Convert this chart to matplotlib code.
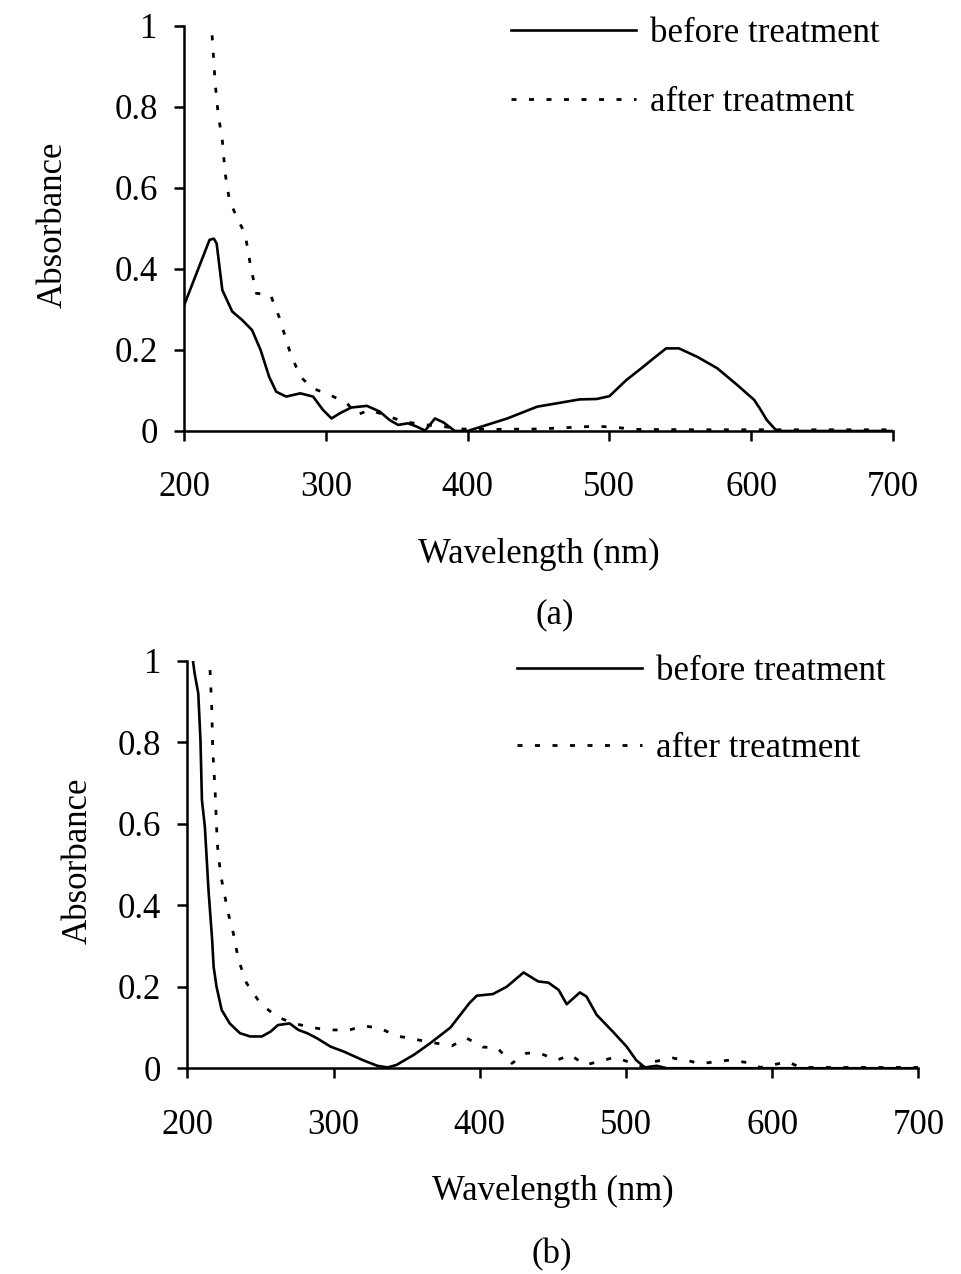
import matplotlib
matplotlib.use("Agg")
import matplotlib.pyplot as plt

plt.rcParams["font.family"] = ["Liberation Serif", "DejaVu Serif"]

# painel (a)
a_antes_wl = [200, 210, 218, 221, 223, 227, 234, 241, 248, 254, 260, 265, 272, 282, 291, 298,
              304, 310, 318, 329, 338, 345, 351, 358, 364, 370, 377, 383, 391, 400, 428, 449,
              479, 491, 500, 512, 524, 531, 540, 549, 562, 576, 590, 602, 606, 611, 618, 650, 700]
a_antes_abs = [0.31, 0.40, 0.472, 0.475, 0.463, 0.348, 0.295, 0.274, 0.249, 0.200, 0.134, 0.097,
               0.085, 0.093, 0.085, 0.052, 0.031, 0.044, 0.058, 0.062, 0.048, 0.027, 0.015, 0.019,
               0.011, 0.001, 0.031, 0.021, 0.0, 0.0, 0.031, 0.060, 0.078, 0.079, 0.086, 0.126,
               0.159, 0.179, 0.204, 0.204, 0.183, 0.155, 0.114, 0.077, 0.056, 0.027, 0.0, 0.0, 0.0]

a_depois_wl = [219, 222, 224, 227, 229, 232, 238, 243, 247, 251, 256, 261, 267, 275, 282, 291,
               303, 315, 322, 331, 341, 355, 371, 383, 395, 420, 450, 480, 490, 500, 520, 560,
               600, 650, 700]
a_depois_abs = [1.02, 0.858, 0.784, 0.718, 0.636, 0.570, 0.521, 0.488, 0.406, 0.340, 0.338, 0.336,
                0.282, 0.192, 0.134, 0.105, 0.089, 0.068, 0.040, 0.052, 0.040, 0.023, 0.015, 0.011,
                0.005, 0.004, 0.005, 0.010, 0.012, 0.010, 0.004, 0.003, 0.003, 0.003, 0.003]

# painel (b)
b_antes_wl = [202, 205, 207.5, 209, 210, 212, 214.5, 217, 218, 220, 223.5, 229, 236, 243, 251, 257,
              262, 270, 276, 282, 288.5, 298, 307, 320, 330, 337, 343, 355, 366, 380, 393, 398,
              409, 418.5, 430, 440, 447, 454, 459.5, 468.5, 473, 480, 491, 500.5, 507, 513, 521,
              528, 600, 700]
b_antes_abs = [1.05, 0.969, 0.92, 0.805, 0.658, 0.593, 0.437, 0.315, 0.249, 0.200, 0.143, 0.110,
               0.086, 0.078, 0.078, 0.090, 0.106, 0.110, 0.094, 0.086, 0.074, 0.053, 0.041, 0.020,
               0.006, 0.002, 0.008, 0.033, 0.061, 0.100, 0.160, 0.178, 0.182, 0.200, 0.235, 0.213,
               0.210, 0.192, 0.157, 0.186, 0.176, 0.131, 0.090, 0.053, 0.020, 0.002, 0.006, 0.0,
               0.0, 0.0]

b_depois_wl = [215, 216.7, 217.4, 219, 220, 221, 223.5, 228, 231.5, 235, 240.5, 250, 261, 272.5,
               288.5, 300, 311, 320.5, 332, 343, 352, 364, 371, 381, 391, 402, 412, 422, 432, 441,
               453, 462, 472, 481, 492.5, 503, 513, 519, 532, 542, 551, 561, 571, 583, 592, 600,
               611, 619, 650, 700]
b_depois_abs = [1.02, 0.887, 0.781, 0.683, 0.593, 0.527, 0.462, 0.380, 0.331, 0.266, 0.209, 0.159,
                0.127, 0.110, 0.098, 0.094, 0.094, 0.104, 0.098, 0.079, 0.074, 0.065, 0.061, 0.055,
                0.074, 0.052, 0.050, 0.012, 0.037, 0.037, 0.020, 0.033, 0.008, 0.016, 0.027, 0.014,
                0.002, 0.016, 0.025, 0.019, 0.011, 0.016, 0.020, 0.014, 0.002, 0.008, 0.016, 0.002,
                0.002, 0.002]

x_ticks = [200, 300, 400, 500, 600, 700]
y_ticks = [0, 0.2, 0.4, 0.6, 0.8, 1]
y_labels = ["0", "0.2", "0.4", "0.6", "0.8", "1"]
legenda = ["before treatment", "after treatment"]

fs = 25
pontilhado = (0, (1.8, 4.5))

fig = plt.figure(figsize=(9.62, 12.74), dpi=100)


def painel(rect, wl1, ab1, wl2, ab2, ylab_x, leg_pos, leg_esp):
    ax = fig.add_axes(rect)
    l1, = ax.plot(wl1, ab1, color="black", lw=1.9)
    l2, = ax.plot(wl2, ab2, color="black", lw=2.0, linestyle=pontilhado)
    ax.set_xlim(200, 700)
    ax.set_ylim(0, 1)
    ax.set_xticks(x_ticks)
    ax.set_yticks(y_ticks)
    ax.set_yticklabels(y_labels)
    for s in ["top", "right"]:
        ax.spines[s].set_visible(False)
    for s in ["left", "bottom"]:
        ax.spines[s].set_linewidth(1.8)
    ax.tick_params(axis="both", direction="out", length=7, width=1.8, labelsize=fs)
    ax.tick_params(axis="x", pad=22)
    ax.tick_params(axis="y", pad=12)
    ax.set_xlabel("Wavelength (nm)", fontsize=fs)
    ax.set_ylabel("Absorbance", fontsize=fs)
    ax.xaxis.set_label_coords(0.5, -0.263)
    ax.yaxis.set_label_coords(ylab_x, 0.51)
    ax.legend([l1, l2], legenda, loc="upper left", bbox_to_anchor=leg_pos,
              bbox_transform=fig.transFigure, frameon=False, fontsize=fs,
              handlelength=3.6, handletextpad=0.4, labelspacing=leg_esp,
              borderpad=0, borderaxespad=0)
    return ax


painel([0.1913, 0.6617, 0.737, 0.3179], a_antes_wl, a_antes_abs, a_depois_wl, a_depois_abs,
       -0.162, (511 / 962, 1 - 17 / 1274), 1.05)
painel([0.1947, 0.1615, 0.7599, 0.3199], b_antes_wl, b_antes_abs, b_depois_wl, b_depois_abs,
       -0.127, (517 / 962, 1 - 655 / 1274), 1.28)

fig.text(555 / 962, 1 - 615 / 1274, "(a)", fontsize=fs, ha="center", va="center")
fig.text(552 / 962, 1 - 1255 / 1274, "(b)", fontsize=fs, ha="center", va="center")

fig.savefig("out.png", dpi=100)
